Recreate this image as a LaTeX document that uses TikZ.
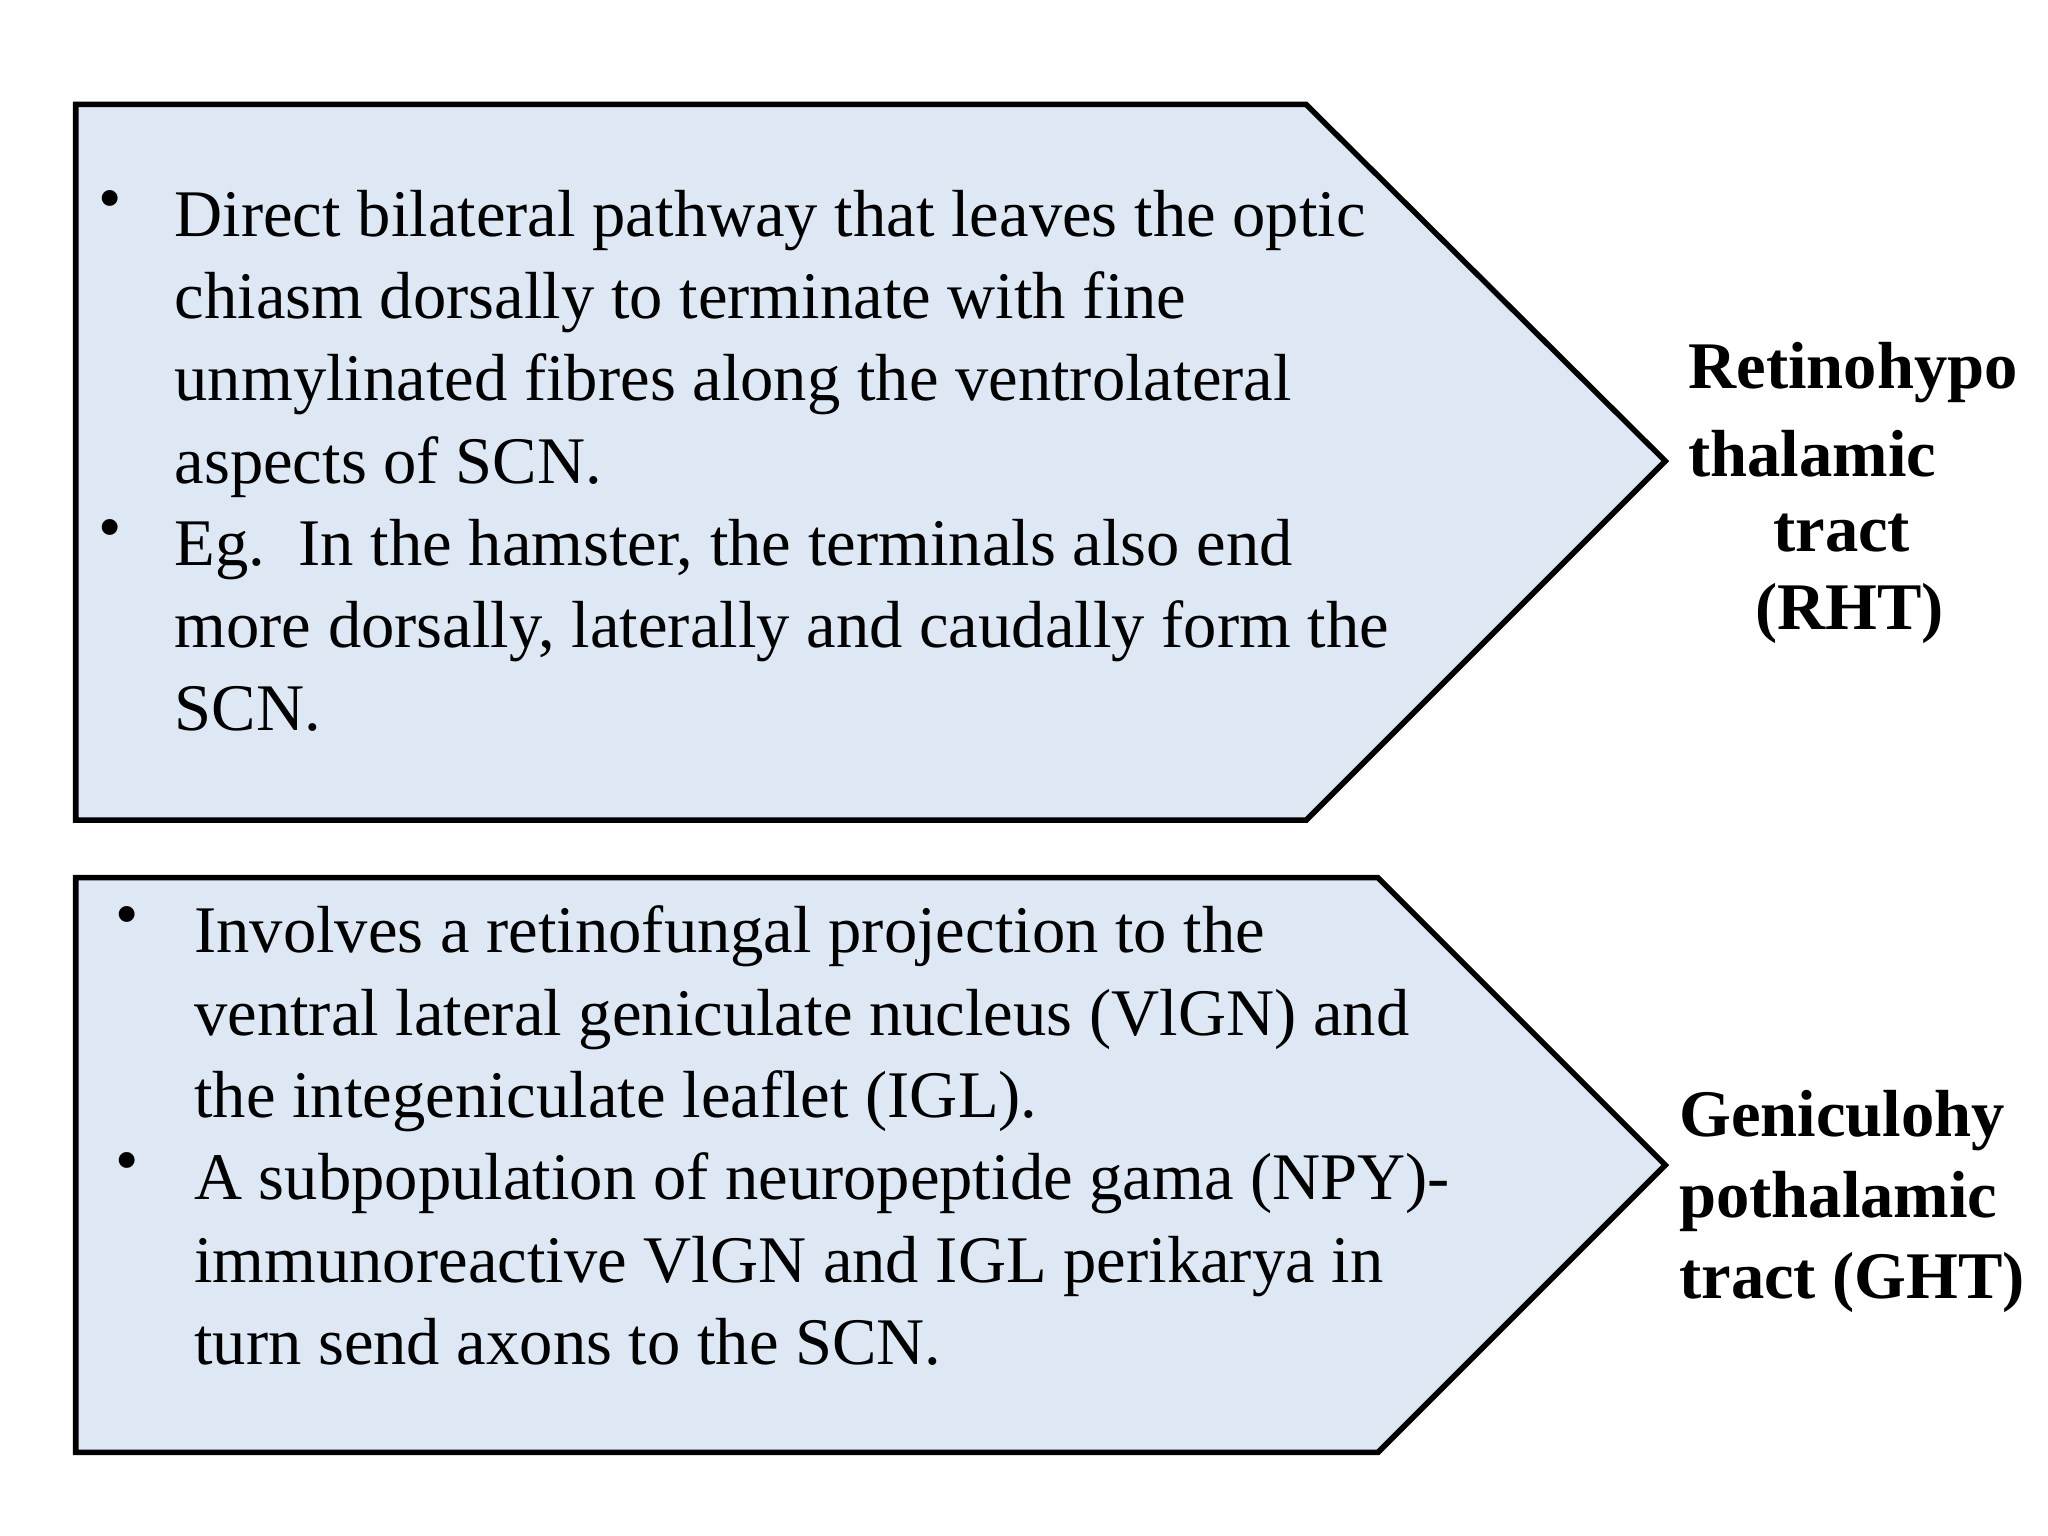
\documentclass[tikz,border=0pt]{standalone}
\usepackage{fontspec}
\setmainfont{Liberation Serif}
\begin{document}
\begin{tikzpicture}[x=0.01cm,y=-0.01cm,
  box/.style={draw=black,line width=1.2pt,fill=blue!20!cyan!8!white,fill=boxc},
  txt/.style={anchor=north west,inner sep=0pt,align=left,font=\fontsize{14.5}{17.9}\selectfont},
  bul/.style={anchor=north west,inner sep=0pt,font=\fontsize{14.5}{17.9}\selectfont},
  lab/.style={inner sep=0pt,font=\bfseries\fontsize{14.5}{17.5}\selectfont}]
\definecolor{boxc}{HTML}{DEE8F4}
\useasboundingbox (0,0) rectangle (1568,1176);
\draw[box] (58,80) -- (1000,80) -- (1275,353) -- (1000,628) -- (58,628) -- cycle;
\draw[box] (58,672) -- (1055,672) -- (1275,892) -- (1055,1112) -- (58,1112) -- cycle;
\node[bul] (b1) at (75,145) {•};
\node[txt] (t1) at (133,145) {Direct bilateral pathway that leaves the optic\\chiasm dorsally to terminate with fine\\unmylinated fibres along the ventrolateral\\aspects of SCN.};
\node[bul] (b2) at (75,397) {•};
\node[txt] (t2) at (133,397) {Eg.\ \ In the hamster, the terminals also end\\more dorsally, laterally and caudally form the\\SCN.};
\node[bul] (b3) at (88,693) {•};
\node[txt] (t3) at (148,693) {Involves a retinofungal projection to the\\ventral lateral geniculate nucleus (VlGN) and\\the integeniculate leaflet (IGL).};
\node[bul] (b4) at (88,882) {•};
\node[txt] (t4) at (148,882) {A subpopulation of neuropeptide gama (NPY)-\\immunoreactive VlGN and IGL perikarya in\\turn send axons to the SCN.};
\node[lab,anchor=west] (l1) at (1292,285) {Retinohypo};
\node[lab,anchor=west] (l2) at (1292,347) {thalamic};
\node[lab,anchor=west] (l3) at (1357,408) {tract};
\node[lab,anchor=west] (l4) at (1343,470) {(RHT)};
\node[lab,anchor=west] (g1) at (1285,858) {Geniculohy};
\node[lab,anchor=west] (g2) at (1285,920) {pothalamic};
\node[lab,anchor=west] (g3) at (1285,982) {tract (GHT)};
\end{tikzpicture}
\end{document}
